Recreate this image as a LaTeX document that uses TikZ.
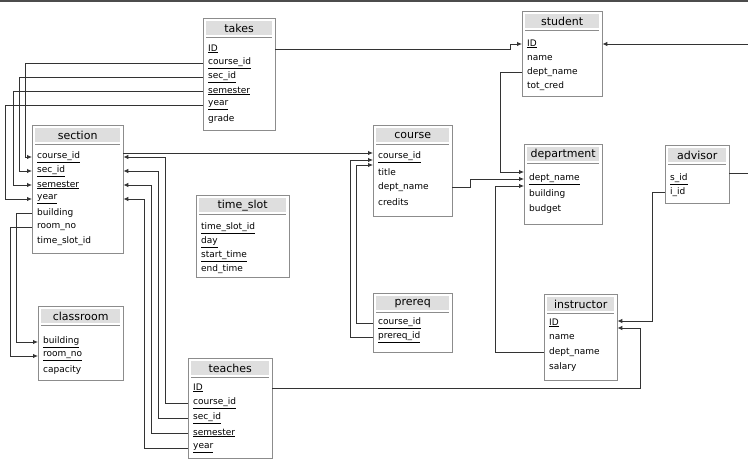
\documentclass[tikz,border=0pt]{standalone}
\usepackage{fontspec}
\newfontfamily\dfont{DejaVu Sans}
\usetikzlibrary{arrows.meta}
\newcommand\EntX{0}\newcommand\EntW{0}\newcommand\EntTW{0}
\tikzset{
  tbox/.style={draw=black!45, line width=1.3pt, fill=white, inner sep=0pt, anchor=north west},
  ttitle/.style={anchor=north west, fill=black!13, inner sep=0pt, minimum height=14pt, font=\dfont\fontsize{11}{12}\selectfont},
  sepline/.style={draw=black!45, line width=0.9pt},
  trow/.style={anchor=west, inner xsep=5pt, inner ysep=0pt, minimum height=12pt, align=left, font=\dfont\fontsize{9}{10}\selectfont},
  fk/.style={draw=black!80, line width=0.9pt, -{Latex[length=5pt,width=4.5pt]}},
}
\newcommand{\entity}[6]{%
  \node[tbox, minimum width=#4pt, minimum height=#5pt] (#1) at (#2,#3) {};
  \pgfmathsetmacro\EntTW{#4-6}%
  \node[ttitle, minimum width=\EntTW pt] (#1-title) at ([xshift=3pt,yshift=-3pt]#1.north west) {#6};
  \draw[sepline] ([yshift=-2pt]#1-title.south west) -- ([yshift=-2pt]#1-title.south east);
  \xdef\EntX{#2}\xdef\EntW{#4}%
  \pgfmathsetmacro\EntTW{#4-10}\xdef\EntTW{\EntTW}%
}
\newcommand{\attr}[3]{%
  \node[trow, minimum width=\EntW pt, text width=\EntTW pt] (#1) at (\EntX,#2) {#3};
}
\begin{document}
\begin{tikzpicture}[x=1pt,y=-1pt]
\useasboundingbox (0,0) rectangle (748,462);
\clip (0,0) rectangle (748,462);
\draw[line width=2.5pt, black!70] (0,1) -- (748,1);

% takes
\entity{takes}{203}{18}{72}{112}{takes}
\attr{takes-id}{49}{\underline{ID}}
\attr{takes-cid}{63}{\underline{course\_id}}
\attr{takes-sid}{77}{\underline{sec\_id}}
\attr{takes-sem}{91}{\underline{semester}}
\attr{takes-yr}{105}{\underline{year}}
\attr{takes-gr}{119}{grade}

% student
\entity{student}{522}{11}{80}{85}{student}
\attr{student-id}{44}{\underline{ID}}
\attr{student-name}{58}{name}
\attr{student-dn}{72}{dept\_name}
\attr{student-tc}{86}{tot\_cred}

% section
\entity{section}{32}{125}{91}{128}{section}
\attr{section-cid}{157}{\underline{course\_id}}
\attr{section-sid}{171}{\underline{sec\_id}}
\attr{section-sem}{185}{\underline{semester}}
\attr{section-yr}{199}{\underline{year}}
\attr{section-bld}{213}{building}
\attr{section-rno}{227}{room\_no}
\attr{section-ts}{241}{time\_slot\_id}

% course
\entity{course}{373}{125}{79}{91}{course}
\attr{course-cid}{157}{\underline{course\_id}}
\attr{course-title}{172}{title}
\attr{course-dn}{187}{dept\_name}
\attr{course-cr}{202}{credits}

% department
\entity{department}{524}{144}{78}{80}{department}
\attr{department-dn}{179}{\underline{dept\_name}}
\attr{department-bld}{194}{building}
\attr{department-bud}{209}{budget}

% advisor
\entity{advisor}{665}{145}{64}{58}{advisor}
\attr{advisor-sid}{179}{\underline{s\_id}}
\attr{advisor-iid}{192}{i\_id}

% time_slot
\entity{timeslot}{196}{195}{93}{82}{time\_slot}
\attr{timeslot-id}{228}{\underline{time\_slot\_id}}
\attr{timeslot-day}{242}{\underline{day}}
\attr{timeslot-st}{256}{\underline{start\_time}}
\attr{timeslot-et}{269}{end\_time}

% prereq
\entity{prereq}{373}{293}{79}{59}{prereq}
\attr{prereq-cid}{323}{\underline{course\_id}}
\attr{prereq-pid}{337}{\underline{prereq\_id}}

% classroom
\entity{classroom}{38}{306}{85}{74}{classroom}
\attr{classroom-bld}{342}{\underline{building}}
\attr{classroom-rno}{356}{\underline{room\_no}}
\attr{classroom-cap}{370}{capacity}

% instructor
\entity{instructor}{544}{294}{73}{86}{instructor}
\attr{instructor-id}{323}{\underline{ID}}
\attr{instructor-name}{337}{name}
\attr{instructor-dn}{352}{dept\_name}
\attr{instructor-sal}{367}{salary}

% teaches
\entity{teaches}{188}{358}{84}{100}{teaches}
\attr{teaches-id}{388}{\underline{ID}}
\attr{teaches-cid}{403}{\underline{course\_id}}
\attr{teaches-sid}{418}{\underline{sec\_id}}
\attr{teaches-sem}{433}{\underline{semester}}
\attr{teaches-yr}{448}{\underline{year}}

% connectors
\draw[fk] (takes-id.east) -- ++(235,0) |- (student-id.west);
\draw[fk] (takes-cid.west) -- ++(-178,0) |- (section-cid.west);
\draw[fk] (takes-sid.west) -- ++(-184,0) |- (section-sid.west);
\draw[fk] (takes-sem.west) -- ++(-190,0) |- (section-sem.west);
\draw[fk] (takes-yr.west) -- ++(-198,0) |- (section-yr.west);

\draw[fk] (section-bld.west) -- ++(-16,0) |- (classroom-bld.west);
\draw[fk] (section-rno.west) -- ++(-22,0) |- (classroom-rno.west);

\draw[fk] (teaches-cid.west) -- ++(-23,0) |- (section-cid.east);
\draw[fk] (teaches-sid.west) -- ++(-30,0) |- (section-sid.east);
\draw[fk] (teaches-sem.west) -- ++(-37,0) |- (section-sem.east);
\draw[fk] (teaches-yr.west) -- ++(-44,0) |- (section-yr.east);

\draw[fk] ([yshift=4pt]section-cid.east) -- ([yshift=4pt]course-cid.west);
\draw[fk] (prereq-cid.west) -- ++(-17,0) |- ([yshift=-8pt]course-cid.west);
\draw[fk] (prereq-pid.west) -- ++(-23,0) |- ([yshift=-3pt]course-cid.west);

\draw[fk] (course-dn.east) -- ++(18,0) |- (department-dn.west);
\draw[fk] (student-dn.west) -- ++(-22,0) |- ([yshift=7pt]department-dn.west);
\draw[fk] (instructor-dn.west) -- ++(-49,0) |- ([yshift=-7pt]department-dn.west);

\draw[fk] ([yshift=6pt]advisor-sid.east) -- ++(40,0) |- (student-id.east);
\draw[fk] (advisor-iid.west) -- ++(-13,0) |- ([yshift=2pt]instructor-id.east);
\draw[fk] (teaches-id.east) -- ++(368,0) |- ([yshift=-5pt]instructor-id.east);
\end{tikzpicture}
\end{document}
